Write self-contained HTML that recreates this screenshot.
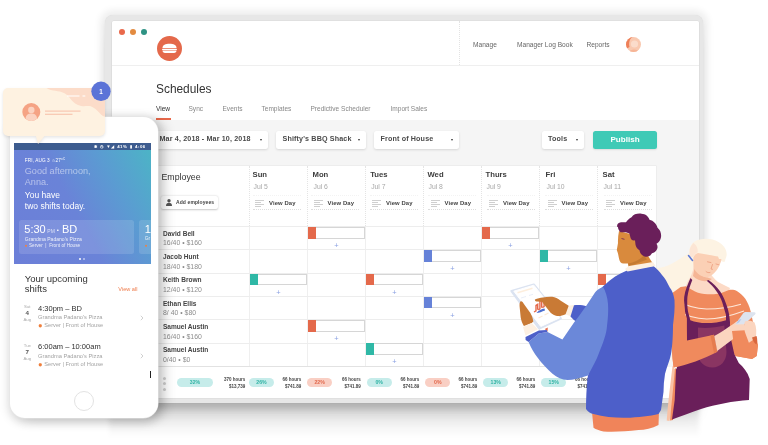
<!DOCTYPE html>
<html lang="en">
<head>
<meta charset="utf-8">
<title>Schedules</title>
<style>
*{box-sizing:border-box;margin:0;padding:0}
html,body{width:768px;height:445px;overflow:hidden;background:#fff}
body{position:relative;font-family:"Liberation Sans",sans-serif;color:#3a3a3a}
.abs{position:absolute}
.t{position:absolute;white-space:nowrap;line-height:1}
/* monitor */
#mon{position:absolute;left:105px;top:14.5px;width:597.5px;height:388.300px;background:#e7e7e7;border-radius:8px;
 box-shadow:0 0 7px 5px rgba(0,0,0,.065),0 0 1px rgba(0,0,0,.1),0 18px 14px -6px rgba(0,0,0,.10),0 6px 6px rgba(0,0,0,.05)}
#scr{position:absolute;left:111.5px;top:21px;width:587px;height:377.300px;background:#f5f5f5;overflow:hidden;border-radius:2px;box-shadow:0 0 0 .6px #d9d9d9}
#hdr{position:absolute;left:0;top:0;width:100%;height:98.5px;background:#fff}
.nav{font-size:6.6px;color:#666}
.tab{font-size:6.550px;color:#888;top:84.7px}
.dd{position:absolute;top:110px;height:18px;background:#fff;border-radius:2.5px;box-shadow:0 1px 2.5px rgba(0,0,0,.13);font-size:7.15px;font-weight:bold;color:#4a4a4a}
.dd span{position:absolute;left:4.5px;top:5.3px;line-height:1;white-space:nowrap;letter-spacing:.15px}
.dd i{position:absolute;right:6.5px;top:7.8px;width:0;height:0;border-left:1.700px solid transparent;border-right:1.700px solid transparent;border-top:2.400px solid #333}
#tbl{position:absolute;left:45.5px;top:144.5px;width:499px;height:201.300px;background:#fff;box-shadow:0 0 0 .5px #e6e6e6;border-bottom:1px solid #e2e2e2}
.vl{position:absolute;top:0;width:1px;height:100%;background:#efefef}
.hl{position:absolute;left:0;width:100%;height:1px;background:#ededed}
.dn{font-size:7.700px;font-weight:bold;color:#3d3d3d;top:5.800px}
.dt{font-size:6.8px;color:#a8a8a8;top:18px}
.vd{position:absolute;top:29.5px;width:48px;height:15px;border-bottom:1px dotted #ddd;border-top:1px dotted #f3f3f3}
.vd b{position:absolute;left:16.5px;top:4.6px;font-size:5.9px;line-height:1;color:#444;white-space:nowrap;letter-spacing:.1px}
.vd s{position:absolute;left:2.5px;height:1px;background:#cfcfcf}
.en{font-size:6.550px;font-weight:bold;color:#444;left:6px;margin-top:.8px}
.es{font-size:6.900px;color:#8d8d8d;left:6px;margin-top:.8px}
.sh{position:absolute;width:57.300px;height:11.600px;border:1px solid #d6d6d6;background:#fff}
.sh i{position:absolute;left:-1px;top:-1px;width:8.500px;height:11.600px}
.pl{position:absolute;font-size:7.500px;line-height:1;color:#8aa0e2;font-weight:normal;margin:-.2px 0 0 -.45px}
.pill{position:absolute;top:357.100px;height:9.400px;width:25px;border-radius:5px;font-size:5.200px;font-weight:bold;text-align:center;line-height:9.400px}
.pg{background:#c6ecea;color:#2fb3a4}
.pr{background:#f9cfc4;color:#e2674a}
.ft{position:absolute;width:40px;text-align:right;font-size:4.500px;font-weight:bold;color:#444;line-height:1;white-space:nowrap}
#ph{position:absolute;left:10px;top:117px;width:148px;height:301px;border-radius:15px;background:#fff;box-shadow:0 0 0 .5px #e8e8e8,0 3px 10px 2px rgba(0,0,0,.13),7px 2px 12px rgba(0,0,0,.17)}
#phs{position:absolute;left:4.300px;top:27px;width:137.200px;height:240px;overflow:hidden;background:#fff}
.pd{font-size:4.300px;color:#aaa;left:6px;width:14px;text-align:center}
.pn{font-size:6.200px;color:#555;left:6px;width:14px;text-align:center;font-weight:bold}
.ph1{font-size:7.500px;color:#2f2f2f;left:23.800px}
.ph2{font-size:5.700px;color:#a3a3a3;left:23.800px}
</style>
</head>
<body>
<div class="abs" style="left:109px;top:392px;width:590px;height:46px;background:linear-gradient(to bottom,rgba(0,0,0,.15) 0,rgba(0,0,0,.14) 22%,rgba(0,0,0,.07) 55%,rgba(0,0,0,0) 100%);filter:blur(2px)"></div>
<div id="mon"></div>
<div id="scr">
 <div id="hdr">
  <div class="abs" style="left:7.5px;top:8px;width:6px;height:6px;border-radius:50%;background:#e9694b"></div>
  <div class="abs" style="left:18.5px;top:8px;width:6px;height:6px;border-radius:50%;background:#e38b40"></div>
  <div class="abs" style="left:29.5px;top:8px;width:6px;height:6px;border-radius:50%;background:#2f9384"></div>
  <svg class="abs" style="left:45.5px;top:15px" width="25" height="25" viewBox="0 0 25 25"><circle cx="12.5" cy="12.5" r="12.5" fill="#e4694b"/><path d="M5.500 12C5.500 9 8.500 7.700 12.500 7.700S19.500 9 19.500 12Z" fill="#fff"/><rect x="5" y="12.700" width="15" height="1.200" rx=".6" fill="#fff"/><path d="M5.500 14.600H19.500C19.500 16.300 18.500 17 17 17H8C6.500 17 5.500 16.300 5.500 14.600Z" fill="#fff"/></svg>
  <div class="abs" style="left:0;top:44px;width:100%;height:1px;background:#efefef"></div>
  <div class="abs" style="left:347px;top:0;width:0;height:44px;border-left:1px dotted #e3e3e3"></div>
  <div class="t nav" style="left:361.5px;top:20.800px">Manage</div>
  <div class="t nav" style="left:405.500px;top:20.800px">Manager Log Book</div>
  <div class="t nav" style="left:475px;top:20.800px">Reports</div>
  <svg class="abs" style="left:514.5px;top:15.500px" width="15" height="15" viewBox="0 0 15 15"><defs><clipPath id="av"><circle cx="7.500" cy="7.500" r="7.500"/></clipPath></defs><g clip-path="url(#av)"><rect width="15" height="15" fill="#f9c9b0"/><path d="M0 0h7c-3 1-4.500 5-3.500 10l-3.500 2z" fill="#ee7f58"/><circle cx="8.500" cy="7" r="3.600" fill="#fbdccb"/><path d="M3 15c1-3.500 9-3.500 10.500 0z" fill="#f6b597"/></g></svg>
  <div class="t" style="left:44.500px;top:62.800px;font-size:11.9px;color:#333">Schedules</div>
  <div class="t tab" style="left:44.500px;color:#333">View</div>
  <div class="t tab" style="left:77px">Sync</div>
  <div class="t tab" style="left:111px">Events</div>
  <div class="t tab" style="left:150px">Templates</div>
  <div class="t tab" style="left:199px">Predictive Scheduler</div>
  <div class="t tab" style="left:279px">Import Sales</div>
  <div class="abs" style="left:44px;top:97px;width:15.500px;height:1.500px;background:#e9694b"></div>
 </div>
 <div class="dd" style="left:43.500px;width:113px"><span>Mar 4, 2018 - Mar 10, 2018</span><i></i></div>
 <div class="dd" style="left:164.500px;width:90px"><span style="left:6.500px">Shifty's BBQ Shack</span><i></i></div>
 <div class="dd" style="left:262.500px;width:85px"><span style="left:6.500px">Front of House</span><i></i></div>
 <div class="dd" style="left:430px;width:42.500px"><span style="left:6.500px">Tools</span><i></i></div>
 <div class="abs" style="left:481.500px;top:110px;width:64px;height:18px;border-radius:2.500px;background:#3fcab6;color:#fff;font-size:8.100px;font-weight:bold;text-align:center;line-height:18px;box-shadow:0 1px 2px rgba(0,0,0,.1)">Publish</div>

 <div id="tbl">
  <div class="vl" style="left:92.0px;top:60px;height:140.900px"></div>
  <div class="abs" style="left:92.0px;top:0;height:60px;width:0;border-left:1px dotted #e4e4e4"></div>
  <div class="vl" style="left:150.0px;top:60px;height:140.900px"></div>
  <div class="abs" style="left:150.0px;top:0;height:60px;width:0;border-left:1px dotted #e4e4e4"></div>
  <div class="vl" style="left:208.0px;top:60px;height:140.900px"></div>
  <div class="abs" style="left:208.0px;top:0;height:60px;width:0;border-left:1px dotted #e4e4e4"></div>
  <div class="vl" style="left:266.0px;top:60px;height:140.900px"></div>
  <div class="abs" style="left:266.0px;top:0;height:60px;width:0;border-left:1px dotted #e4e4e4"></div>
  <div class="vl" style="left:324.0px;top:60px;height:140.900px"></div>
  <div class="abs" style="left:324.0px;top:0;height:60px;width:0;border-left:1px dotted #e4e4e4"></div>
  <div class="vl" style="left:382.0px;top:60px;height:140.900px"></div>
  <div class="abs" style="left:382.0px;top:0;height:60px;width:0;border-left:1px dotted #e4e4e4"></div>
  <div class="vl" style="left:440.0px;top:60px;height:140.900px"></div>
  <div class="abs" style="left:440.0px;top:0;height:60px;width:0;border-left:1px dotted #e4e4e4"></div>
  <div class="hl" style="top:60.2px"></div>
  <div class="hl" style="top:83.6px"></div>
  <div class="hl" style="top:107.0px"></div>
  <div class="hl" style="top:130.3px"></div>
  <div class="hl" style="top:153.7px"></div>
  <div class="hl" style="top:177.0px"></div>
  <div class="t" style="left:4.5px;top:7.300px;font-size:8.800px;color:#333">Employee</div>
  <div class="abs" style="left:4px;top:30.5px;width:56.5px;height:13px;border-radius:2px;background:#fff;box-shadow:0 .5px 2px rgba(0,0,0,.22)"><svg class="abs" style="left:5px;top:3px" width="6" height="7" viewBox="0 0 6 7"><circle cx="3" cy="1.8" r="1.7" fill="#555"/><path d="M0 7c0-2.500 1.200-3.300 3-3.300s3 .8 3 3.300z" fill="#555"/></svg><span class="t" style="left:15px;top:4.200px;font-size:5px;font-weight:bold;color:#444;letter-spacing:.1px">Add employees</span></div>
  <div class="t dn" style="left:95.5px">Sun</div><div class="t dt" style="left:96.5px">Jul 5</div>
  <div class="vd" style="left:95.5px"><s style="top:3.5px;width:9px"></s><s style="top:5.7px;width:6px"></s><s style="top:7.900px;width:9px"></s><s style="top:10.100px;width:6px"></s><b>View Day</b></div>
  <div class="t dn" style="left:155.5px">Mon</div><div class="t dt" style="left:156.5px">Jul 6</div>
  <div class="vd" style="left:154.0px"><s style="top:3.5px;width:9px"></s><s style="top:5.7px;width:6px"></s><s style="top:7.900px;width:9px"></s><s style="top:10.100px;width:6px"></s><b>View Day</b></div>
  <div class="t dn" style="left:213.2px">Tues</div><div class="t dt" style="left:214.2px">Jul 7</div>
  <div class="vd" style="left:212.5px"><s style="top:3.5px;width:9px"></s><s style="top:5.7px;width:6px"></s><s style="top:7.900px;width:9px"></s><s style="top:10.100px;width:6px"></s><b>View Day</b></div>
  <div class="t dn" style="left:270.5px">Wed</div><div class="t dt" style="left:271.5px">Jul 8</div>
  <div class="vd" style="left:271.0px"><s style="top:3.5px;width:9px"></s><s style="top:5.7px;width:6px"></s><s style="top:7.900px;width:9px"></s><s style="top:10.100px;width:6px"></s><b>View Day</b></div>
  <div class="t dn" style="left:328.5px">Thurs</div><div class="t dt" style="left:329.5px">Jul 9</div>
  <div class="vd" style="left:329.5px"><s style="top:3.5px;width:9px"></s><s style="top:5.7px;width:6px"></s><s style="top:7.900px;width:9px"></s><s style="top:10.100px;width:6px"></s><b>View Day</b></div>
  <div class="t dn" style="left:388.5px">Fri</div><div class="t dt" style="left:389.5px">Jul 10</div>
  <div class="vd" style="left:388.0px"><s style="top:3.5px;width:9px"></s><s style="top:5.7px;width:6px"></s><s style="top:7.900px;width:9px"></s><s style="top:10.100px;width:6px"></s><b>View Day</b></div>
  <div class="t dn" style="left:445.5px">Sat</div><div class="t dt" style="left:446.5px">Jul 11</div>
  <div class="vd" style="left:446.5px"><s style="top:3.5px;width:9px"></s><s style="top:5.7px;width:6px"></s><s style="top:7.900px;width:9px"></s><s style="top:10.100px;width:6px"></s><b>View Day</b></div>
  <div class="t en" style="top:64.3px">David Bell</div><div class="t es" style="top:74.0px">16/40 • $160</div>
  <div class="t en" style="top:87.7px">Jacob Hunt</div><div class="t es" style="top:97.3px">18/40 • $180</div>
  <div class="t en" style="top:111.0px">Keith Brown</div><div class="t es" style="top:120.7px">12/40 • $120</div>
  <div class="t en" style="top:134.4px">Ethan Ellis</div><div class="t es" style="top:144.0px">8/ 40 • $80</div>
  <div class="t en" style="top:157.8px">Samuel Austin</div><div class="t es" style="top:167.3px">16/40 • $160</div>
  <div class="t en" style="top:181.1px">Samuel Austin</div><div class="t es" style="top:190.7px">0/40 • $0</div>
  <div class="sh" style="left:150.5px;top:61.80px"><i style="background:#e4694b"></i></div><div class="pl" style="left:177.7px;top:76.90px">+</div>
  <div class="sh" style="left:324.5px;top:61.80px"><i style="background:#e4694b"></i></div><div class="pl" style="left:351.7px;top:76.90px">+</div>
  <div class="sh" style="left:266.5px;top:84.97px"><i style="background:#6682d8"></i></div><div class="pl" style="left:293.7px;top:100.07px">+</div>
  <div class="sh" style="left:382.5px;top:84.97px"><i style="background:#2fb8a6"></i></div><div class="pl" style="left:409.7px;top:100.07px">+</div>
  <div class="sh" style="left:92.5px;top:108.14px"><i style="background:#2fb8a6"></i></div><div class="pl" style="left:119.7px;top:123.24px">+</div>
  <div class="sh" style="left:208.5px;top:108.14px"><i style="background:#e4694b"></i></div><div class="pl" style="left:235.7px;top:123.24px">+</div>
  <div class="sh" style="left:440.5px;top:108.14px"><i style="background:#e4694b"></i></div><div class="pl" style="left:467.7px;top:123.24px">+</div>
  <div class="sh" style="left:266.5px;top:131.31px"><i style="background:#6682d8"></i></div><div class="pl" style="left:293.7px;top:146.41px">+</div>
  <div class="sh" style="left:150.5px;top:154.48px"><i style="background:#e4694b"></i></div><div class="pl" style="left:177.7px;top:169.58px">+</div>
  <div class="sh" style="left:208.5px;top:177.65px"><i style="background:#2fb8a6"></i></div><div class="pl" style="left:235.7px;top:192.75px">+</div>
 </div>
 <div class="abs" style="left:45.5px;top:346px;width:541.500px;height:31.500px;background:#fff"></div>
 <div class="abs" style="left:51px;top:355.5px;width:3px;height:3px;border-radius:50%;background:#cfcfcf"></div>
 <div class="abs" style="left:51px;top:361.0px;width:3px;height:3px;border-radius:50%;background:#cfcfcf"></div>
 <div class="abs" style="left:51px;top:366.5px;width:3px;height:3px;border-radius:50%;background:#cfcfcf"></div>
 <div class="pill pg" style="left:65.700px;width:35.600px">32%</div>
 <div class="ft" style="left:93.700px;top:356.500px">370 hours</div><div class="ft" style="left:93.700px;top:363.800px">$13,739</div>
 <div class="pill pg" style="left:137.5px">26%</div>
 <div class="ft" style="left:149.7px;top:356.500px">66 hours</div><div class="ft" style="left:149.7px;top:363.800px">$741.89</div>
 <div class="pill pr" style="left:195.7px">22%</div>
 <div class="ft" style="left:209.2px;top:356.500px">66 hours</div><div class="ft" style="left:209.2px;top:363.800px">$741.89</div>
 <div class="pill pg" style="left:255.2px">0%</div>
 <div class="ft" style="left:267.8px;top:356.500px">66 hours</div><div class="ft" style="left:267.8px;top:363.800px">$741.89</div>
 <div class="pill pr" style="left:313.8px">0%</div>
 <div class="ft" style="left:325.8px;top:356.500px">66 hours</div><div class="ft" style="left:325.8px;top:363.800px">$741.89</div>
 <div class="pill pg" style="left:371.8px">13%</div>
 <div class="ft" style="left:383.8px;top:356.500px">66 hours</div><div class="ft" style="left:383.8px;top:363.800px">$741.89</div>
 <div class="pill pg" style="left:429.8px">15%</div>
 <div class="ft" style="left:442.2px;top:356.500px">66 hours</div><div class="ft" style="left:442.2px;top:363.800px">$741.89</div>
 <div class="pill pr" style="left:488.2px">9%</div>
 <div class="ft" style="left:500.6px;top:356.500px">66 hours</div><div class="ft" style="left:500.6px;top:363.800px">$741.89</div>

</div>
<div id="ph">
 <div class="abs" style="left:4.300px;top:26.200px;width:137.200px;height:2px;background:#3d5c8f"></div>
 <div id="phs">
  <div class="abs" style="left:0;top:0;width:100%;height:5.5px;background:#3d5c8f"></div>
  <div class="t" id="stt" style="right:5.700px;top:.55px;font-size:4.400px;font-weight:bold;color:#fff;letter-spacing:.5px;word-spacing:.8px">✱ ◷ ▼◢ 41% ▮ 4:06</div>
  <div class="abs" style="left:0;top:5.500px;width:100%;height:114.500px;background:linear-gradient(62deg,#6c7fd8 0%,#6a83d8 45%,#5b9bd2 72%,#4cb4c6 100%)"></div>
  <div class="t" style="left:10.500px;top:13.500px;font-size:4.700px;color:#fff;letter-spacing:.1px">FRI, AUG 3 ☼27°<span style="font-size:3px;vertical-align:1.500px">C</span></div>
  <div class="t" style="left:10.500px;top:22.700px;font-size:9.100px;color:rgba(255,255,255,.5)">Good afternoon,</div>
  <div class="t" style="left:10.500px;top:34.300px;font-size:9.100px;color:rgba(255,255,255,.5)">Anna.</div>
  <div class="t" style="left:10.500px;top:46.500px;font-size:8.500px;color:#fff">You have</div>
  <div class="t" style="left:10.500px;top:58px;font-size:8.500px;color:#fff">two shifts today.</div>
  <div class="abs" style="left:5px;top:76px;width:114.500px;height:34px;border-radius:2.500px;background:rgba(255,255,255,.13)"></div>
  <div class="abs" style="left:125px;top:76px;width:40px;height:34px;border-radius:2.500px;background:rgba(255,255,255,.13)"></div>
  <div class="t" style="left:10px;top:79.500px;font-size:11px;color:#fff">5:30<span style="font-size:5px;color:rgba(255,255,255,.7);letter-spacing:.2px"> PM </span><span style="font-size:6px;vertical-align:1.500px">•</span> BD</div>
  <div class="t" style="left:10.500px;top:92.500px;font-size:5.050px;color:rgba(255,255,255,.85)">Grandma Padano's Pizza</div>
  <div class="t" style="left:10.500px;top:100.400px;font-size:4.700px;color:rgba(255,255,255,.85)"><span style="color:#f2803f">●</span> Server &nbsp;|&nbsp; Front of House</div>
  <div class="t" style="left:130.500px;top:79.500px;font-size:11px;color:#fff">11</div>
  <div class="t" style="left:130.500px;top:92.500px;font-size:4.900px;color:rgba(255,255,255,.85)">Gr</div>
  <div class="t" style="left:130.500px;top:99.500px;font-size:4.400px;color:#f2803f">●</div>
  <div class="abs" style="left:64.500px;top:114px;width:2px;height:2px;border-radius:50%;background:#fff"></div>
  <div class="abs" style="left:68.500px;top:114px;width:2px;height:2px;border-radius:50%;background:rgba(255,255,255,.55)"></div>
  <div class="t" style="left:10.500px;top:129.500px;font-size:9.500px;color:#333">Your upcoming</div>
  <div class="t" style="left:10.500px;top:139.800px;font-size:9.500px;color:#333">shifts</div>
  <div class="t" style="left:104px;top:142.500px;font-size:5.600px;color:#ee7c4c">View all</div>

  <div class="t pd" style="top:161.300px">Sat</div><div class="t pn" style="top:166px">4</div><div class="t pd" style="top:174.300px">Aug</div>
  <div class="t ph1" style="top:161.200px">4:30pm – BD</div>
  <div class="t ph2" style="top:171.100px">Grandma Padano's Pizza</div>
  <div class="t ph2" style="top:179px"><span style="color:#ef7f3c;font-size:7.500px;line-height:0;vertical-align:-.6px">●</span> Server | Front of House</div>
  <svg class="abs" style="left:126px;top:170.500px" width="4" height="6" viewBox="0 0 4 6"><path d="M.8.800 3 3 .8 5.200" fill="none" stroke="#bbb" stroke-width=".7"/></svg>

  <div class="t pd" style="top:199.800px">Tue</div><div class="t pn" style="top:204.500px">7</div><div class="t pd" style="top:212.800px">Aug</div>
  <div class="t ph1" style="top:199.200px">6:00am – 10:00am</div>
  <div class="t ph2" style="top:209.600px">Grandma Padano's Pizza</div>
  <div class="t ph2" style="top:217.700px"><span style="color:#ef7f3c;font-size:7.500px;line-height:0;vertical-align:-.6px">●</span> Server | Front of House</div>
  <svg class="abs" style="left:126px;top:209px" width="4" height="6" viewBox="0 0 4 6"><path d="M.8.800 3 3 .8 5.200" fill="none" stroke="#bbb" stroke-width=".7"/></svg>
  <div class="abs" style="left:135.500px;top:227px;width:1px;height:7px;background:#222"></div>
 </div>
 <div class="abs" style="left:64px;top:274px;width:20px;height:20px;border-radius:50%;border:.7px solid #e3e3e3"></div>
</div>
<svg class="abs" style="left:0;top:80px" width="125" height="70" viewBox="0 80 125 70">
 <defs><clipPath id="bc"><path id="bp" d="M8 88h92a5 5 0 0 1 5 5v38a5 5 0 0 1-5 5H44.500l-6.500 8-2-8H8a5 5 0 0 1-5-5V93a5 5 0 0 1 5-5z"/></clipPath>
 <filter id="bsh" x="-10%" y="-10%" width="120%" height="130%"><feGaussianBlur stdDeviation="1.500"/></filter></defs>
 <path d="M8 88h92a5 5 0 0 1 5 5v38a5 5 0 0 1-5 5H44.500l-6.500 8-2-8H8a5 5 0 0 1-5-5V93a5 5 0 0 1 5-5z" fill="rgba(0,0,0,.10)" filter="url(#bsh)" transform="translate(0,1.500)"/>
 <path d="M8 88h92a5 5 0 0 1 5 5v38a5 5 0 0 1-5 5H44.500l-6.500 8-2-8H8a5 5 0 0 1-5-5V93a5 5 0 0 1 5-5z" fill="#fef2e1"/>
 <g clip-path="url(#bc)">
  <path d="M44 86c6 6 14 4 20 7s7 9 14 12 10-1 16 3 7 9 13 9V86z" fill="#fcdcc9"/>
 </g>
 <circle cx="31.300" cy="112" r="9" fill="#f5a384"/>
 <circle cx="31.300" cy="110" r="3.200" fill="#fbd3c1"/>
 <path d="M25.500 118.500c.5-4 3-5 5.800-5s5.300 1 5.800 5c-1.500 1.500-3.500 2.500-5.800 2.500s-4.300-1-5.800-2.500z" fill="#fbd3c1"/>
 <rect x="45" y="110.500" width="35.500" height="1.200" fill="#f8c7b1"/>
 <rect x="45" y="113.700" width="27.500" height="1.200" fill="#f8c7b1"/>
 <rect x="67" y="95.500" width="12.500" height="1" fill="#fff"/>
 <rect x="82.500" y="95.500" width="2.800" height="1" fill="#fff"/>
 <circle cx="101" cy="91.300" r="9.700" fill="#5b73d7"/>
 <text x="101" y="93.500" font-family="Liberation Sans, sans-serif" font-size="6.300" font-weight="bold" fill="#fff" text-anchor="middle">1</text>
</svg>

<svg class="abs" style="left:480px;top:200px" width="288" height="245" viewBox="480 200 288 245">
 <defs><filter id="gsh" x="-20%" y="-50%" width="140%" height="200%"><feGaussianBlur stdDeviation="3"/></filter></defs>
 <!-- ground shadows -->
 
 <!-- WOMAN -->
 <g id="woman">
  <!-- ponytail / back hair -->
  <path d="M691 252C684 256 676 262 668 265.500C663 267.500 659 268 655 268.500L650 300L672 294L681 287.500L690 282L696 268Z" fill="#fdf3e3"/>
  <path d="M709 274c4 2 8 8 11 12l-8 6-6-12z" fill="#fdf3e3"/>
  <!-- skirt strip -->
  <path d="M672.500 366C670.500 384 668 402 666.700 420.500L669.500 421L677 372Z" fill="#f9c3a6"/>
  <path d="M675 368C673.500 386 671.500 403 670 420.500L673 420L680 372Z" fill="#f08a5d"/>
  <!-- neck + chest skin -->
  <path d="M694 262L693 270C692 274 690 278 688 281L684 290L690 298L726 298L730 288L718 282C714 279 711 275 710 272Z" fill="#fcdac6"/>
  <path d="M694.500 268c3 5 8 9 13 9.500l4.500 1.500c-6 4-14 2-19-3z" fill="#f5b595"/>
  <!-- sweater -->
  <path d="M671.600 293.400L680.600 287L686 286.200C689 288 692 290 695 291.600C699 293.500 703 294.300 707.600 294.300C712 294.300 716 294 720 293.400C723 292.500 726 291.200 729 290C732 289.500 735 290 737.200 291.200C740 293 743 295.500 745.300 298.800C747.500 302 749.500 306.500 750.700 311.400L758 345L756.700 356L752 359L735.400 356L731 350L673.600 367.400C670.500 345 670.300 318 671.600 293.400Z" fill="#f08a5d"/>
  <!-- stripes -->
  <g fill="none" stroke="#fde6d8" stroke-width="1.100">
   <path d="M673 299.500C684 305 696 308.600 706.700 309C718 309 730 307.500 741 304.200"/>
   <path d="M673 309.700C684 315 696 318.600 706.700 319C718 319 729 316.500 744 311"/>
  </g>
  <!-- apron -->
  <path d="M690.500 278C688 284 685 290 684.200 297C683.800 302 684.200 307 685 311.400L686.900 318.600L686.900 342L676 369.700L674.700 400L672 419.500C681 416.500 690 412.500 701 409C716 404.500 733 401 749 400L749.700 379C747.500 372 743.500 367 738.800 363L734.300 354L729.800 333.700L730 322L729.200 315C728.500 311 727.300 306.500 725.600 302.400C724.200 298.500 722.400 295 720.200 291.600C717 287 713 283 708.500 280L706.700 280.800C710.500 284 714 287.500 716.600 291.600C719 295 721 298.500 722.300 302.400L726 315L726 320.200C720 322.300 713 323.100 706.700 323.100C700 323.100 695 322 690.300 320.200L688 311.400C687.300 307 687 302 687.400 297C688.300 291 690 285.500 692.300 280Z" fill="#6a1f5a"/>
  <!-- pocket -->
  <path d="M698 327.500C706 328.500 716 327.500 724.300 325.500L726.500 352C726.500 361 720.500 367.500 712.500 367.500C704.500 367.500 698 361.500 698 353.500Z" fill="#8a3562"/>
  <!-- left arm (sleeve) -->
  <path d="M672 296L684 300L687 340.400L714 334.800L717.400 351.700C703 359 688 365 673.600 367.400C671 345 671 320 672 296Z" fill="#f08a5d"/>
  <path d="M710.500 335.500L714 334.800L717.400 351.700L714 353.300Z" fill="#e57c50"/>
  <!-- left forearm skin -->
  <path d="M714.300 336C720 333 727 328 733.600 323.700L736.500 321.500C739 321 741.500 321.500 743.500 323L746.600 329.200L738.800 334.800L717.200 351Z" fill="#fbd5bf"/>
  <!-- phone -->
  <path d="M735.200 324.500L743.200 313.200C744 312.300 745 312 746 312L754.500 312.300C755.600 312.500 755.800 313.500 755.200 314.300L744.500 324.300Z" fill="#dde3ee"/>
  <path d="M736 324l3-1.500 2.500-3.500-2.500.5z" fill="#b9c8ea"/>
  <!-- right arm -->
  <path d="M732 331L749 330L758 345L756.700 356L752 359L735.400 356Z" fill="#f08a5d"/>
  <path d="M745 321.500C748 320 752 320.500 754.500 322.500C756.500 327 756.800 333 755.600 338.200L748.900 342.700L745.500 333.700C744 330 743.500 325 745 321.500Z" fill="#fbd5bf"/>
  <path d="M752 337.500L756.500 336C757.500 339 757.500 342 756.500 344.500C754.500 343.500 753 341 752 337.500Z" fill="#d9683f"/>
  <!-- face -->
  <path d="M693.500 254c-.5 6-.2 11 .8 15.300 3 5 8 8 13 8 5-1.500 9-5.500 11.500-10.500l3-7-4-8-18-3z" fill="#fbd0b5"/>
  <path d="M707.500 261.800l3.500.8M716 264l3 .8M712.500 264.500l-1.500 4.500 1.500.3M706 271.500c1 1 2.500 1.500 4 1" fill="none" stroke="#e58a6a" stroke-width=".6" stroke-linecap="round"/>
  <!-- hair -->
  <path d="M690.500 257c-2.500-6-1-12 4-15.500 7-4 17-3.500 24 .5 6 3.500 9 9 8 14l-2 6-2.500-.5-.5-2.500-2.500 0-1-2.500c-6-1-13-2.500-20-3.500-2 .5-3.500 2-4.500 4z" fill="#fdf3e3"/>
  <path d="M690.500 257c-2-5-1-10 3-14 3 2 5 6 4 9.500-1.500.5-3 2-4 4.500z" fill="#fce5d4"/>
  <path d="M688.500 255.500l4 5" stroke="#5b78d6" stroke-width="1.600" stroke-linecap="round"/>
 </g>
 <!-- MAN -->
 <g id="man">
  <!-- pants -->
  <path d="M592 412L659 411L658.500 425C652 428.500 645 430 638.500 430C626 431.500 614 432 603.500 431.500C599 430.500 596 429.500 593.500 427.800Z" fill="#f0845a"/>
  <!-- right arm cuff (behind) -->
  <path d="M568.700 305.700l5.500-.8-3.200 11.300-5.400-1.600z" fill="#fdf0e2"/>
  <path d="M574 305.300c5-.5 9 0 13 1.200l-9 16c-3-1.500-5.500-3.500-7.500-6z" fill="#4d5fc9"/>
  <!-- tablet -->
  <path d="M511.500 291L533.800 284.500L560.800 318.500L539.300 328.500z" fill="#dbe3f1" stroke="#dbe3f1" stroke-width="2.200" stroke-linejoin="round"/>
  <path d="M513.800 291.200L533.800 285.200L559.800 317.800L540.800 326.500z" fill="#fff" stroke="#fff" stroke-width="1" stroke-linejoin="round"/>
  <path d="M517.500 292.800l15-4.500" stroke="#fdeedd" stroke-width="1.600"/>
  <path d="M521 298l5-1.500M529 295.500l4-1.200" stroke="#dfe6f3" stroke-width=".7"/>
  <path d="M534 312l2-1.200v-5.500l1.700-1v5.500M538.200 309.800l1.700-1v-8l1.800-1v8M542.500 307.500l1.600-1v-5.500" stroke="#e4694b" stroke-width="1.400" fill="none"/>
  <path d="M536.500 313c2-2.500 5-4 8-4.500l.5 2c-3 1-6 2.500-8.500 2.500z" fill="#4d6fd0"/>
  <path d="M538.500 318l4-2M544.500 315l4-2" stroke="#fde9d4" stroke-width="1.100"/>
  <path d="M544.800 329l2.700 2.500.3-4z" fill="#e4694b"/>
  <!-- left hand -->
  <path d="M520.700 301.300c1.300-.3 2.400 1 3.200 2.700l6.300 8.800c1.700 2.800 2.700 5.800 3.100 8.600l-1.600 1.600-7.800 3.100c-1.600-2.600-2.700-5.500-3.200-8.600l-1.100-11c-.2-2.300.2-4.500 1.100-5.200z" fill="#c97a35"/>
  <path d="M523 327l8.700-4 6.300 6.300-12.500 6.300z" fill="#fdf0e2"/>
  <!-- right hand -->
  <path d="M534.900 299.400c2.500-1 5.500-1.500 7.900-1.900 3-.6 6.400-1 9.400-.8 3 .4 5.800 1.700 7.800 3.500l8.700 5.500-3.100 8.600c-3 1.500-6 2-8.600 1.700-2.500-.5-4.700-1.600-6.400-3.200l-5.500-7.100-3.100-4-5.500-.3c-1.200-.2-1.800-1.300-1.600-2z" fill="#c97a35"/>
  <!-- body -->
  <path d="M627 270.500C619 273.500 611 278.500 604 285.500L597 292C599 312 597 340 591 362L587.500 378C586.500 388 586 399 586 409C588 412 591 413.500 593.500 414C604 417 616 418 626 417.800C638 417.500 650 416 658.500 414L661 410L663.500 392C663.500 386 664 380 665 374C667 366 670 360 671 354C672.500 346 673 334 673 325C674 317 675 309 674.500 300C673.500 294 672 290 669.750 287.500C667 282 665 278 662 275C660 272 657 269 653.500 266Z" fill="#4d5fc9"/>
  <!-- arm light -->
  <path d="M603 287C599 288.500 596.500 290.500 595 292.500L586.800 305L579 316L574.200 322.200L562.400 339.500L547.500 332L538.800 333.500L528.600 342C531 348 534 353 537.500 357.500C542 363.500 547 369 552.500 373.750C557 377.500 562 380 567.500 380C573 380 580 378 588 375.500C592 368 596.500 360 599 353C603 343 606.500 334 607 326C608 318 608.500 311 608 304C607.500 297 605.500 291 603 287Z" fill="#6b88d9"/>
  <!-- left cuff dark -->
  <path d="M525.500 337l13.300-6.600 7.900-.4.800 2-8.700 1.500-10.200 8.400-3-2z" fill="#4d5fc9"/>
  <!-- neck & face -->
  <path d="M619 231c-.8 4-1.200 8-1 12l-1.200 7 1.200 3.500 1 5c.5 3 2 5 4.500 5h4.500l.8 4 24-4-5-8-12-20z" fill="#d98a3d"/>
  <path d="M628 263.500c6-1 12-4 16-8l3 4-18 7z" fill="#c47a33"/>
  <!-- collar -->
  <path d="M625 269l4-3 24-4 2.500 4-28 5.500z" fill="#fdf0e2"/>
  <!-- hair -->
  <path d="M617 226.500c0-2.500 1.500-4 4-4.300 2 0 3.500.3 5 0 1.500-2 3-4 5.500-5 2-3 6-4 10-3.500 4 .3 7 2.500 8 6 4 1 7 4 8 8 3 2.500 4 6 3.500 9.500-.5 3-2 5-4.500 6.500 1 1.500 1.500 3.500.5 5.500-1 2.500-3 3.500-5 4-1.500 3-5 4.500-8 3-2.500-1-4-3-4.500-6-2-1-3.500-3-4-5.500l-.5-4.500c-2 1-4-.5-4.500-2.500l-1-4c-1.500-1-3-1.500-5-1.500h-4c-1.500-1.500-2.500-3.500-2.500-5z" fill="#6a1f5a"/>
  <path d="M621.500 238.500l3 .8" stroke="#6a1f5a" stroke-width=".8"/>
 </g>
</svg>

</body>
</html>
